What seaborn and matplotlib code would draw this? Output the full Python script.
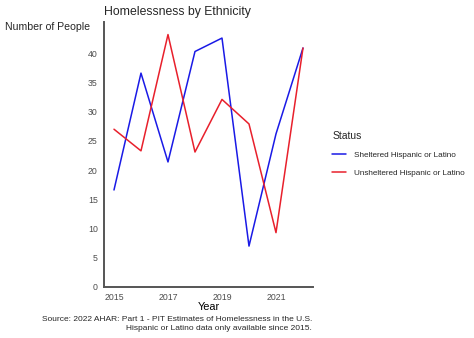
import matplotlib
matplotlib.use("Agg")
import matplotlib.pyplot as plt
import seaborn as sns
import pandas as pd
from matplotlib.lines import Line2D

years = [2015, 2016, 2017, 2018, 2019, 2020, 2021, 2022]
sheltered = [16.6, 36.6, 21.4, 40.3, 42.6, 7.0, 26.2, 40.9]
unsheltered = [27.0, 23.3, 43.2, 23.1, 32.1, 27.9, 9.3, 40.9]
status_labels = ["Sheltered Hispanic or Latino", "Unsheltered Hispanic or Latino"]
x_ticks = [2015, 2017, 2019, 2021]
y_ticks = [0, 5, 10, 15, 20, 25, 30, 35, 40]

df = pd.DataFrame({
    "Year": years * 2,
    "People": sheltered + unsheltered,
    "Status": [status_labels[0]] * len(years) + [status_labels[1]] * len(years),
})

sns.set_theme(style="white")
plt.rcParams["font.family"] = ["Liberation Sans", "DejaVu Sans"]

fig = plt.figure(figsize=(4.74, 3.38), dpi=100)
ax = fig.add_axes([0.2194, 0.1509, 0.4409, 0.7849])

palette = {status_labels[0]: "#1a1ae6", status_labels[1]: "#e8202c"}
sns.lineplot(data=df, x="Year", y="People", hue="Status", palette=palette,
             linewidth=1.1, ax=ax, legend=False)

ax.set_xlim(2014.63, 2022.37)
ax.set_ylim(0, 45.4)
ax.set_xticks(x_ticks)
ax.set_yticks(y_ticks)
ax.tick_params(axis="both", labelsize=6.3, colors="#4d4d4d", length=3, width=0.8,
               direction="out", pad=1.5)
for side in ["top", "right"]:
    ax.spines[side].set_visible(False)
for side in ["left", "bottom"]:
    ax.spines[side].set_color("#555555")
    ax.spines[side].set_linewidth(1.4)

ax.set_xlabel("Year", fontsize=7.9, color="black", labelpad=0)
ax.set_ylabel("")
ax.set_title("Homelessness by Ethnicity", fontsize=8.8, loc="left", pad=5)

fig.text(5 / 474, 1 - 27 / 338, "Number of People", fontsize=7.6, ha="left", va="center")

# legend on the right
handles = [Line2D([0], [0], color=palette[s], linewidth=1.1) for s in status_labels]
leg = fig.legend(handles, status_labels, title="Status", loc="center left",
                 bbox_to_anchor=(325 / 474, 1 - 154 / 338), frameon=False,
                 fontsize=5.9, title_fontsize=7.5, handlelength=1.7,
                 handletextpad=0.9, labelspacing=1.2)
leg._legend_box.align = "left"

fig.text(312 / 474, 1 - 319.5 / 338,
         "Source: 2022 AHAR: Part 1 - PIT Estimates of Homelessness in the U.S.",
         fontsize=6.0, ha="right", va="center")
fig.text(312 / 474, 1 - 328.5 / 338,
         "Hispanic or Latino data only available since 2015.",
         fontsize=6.0, ha="right", va="center")

fig.savefig("out.png", dpi=100)
